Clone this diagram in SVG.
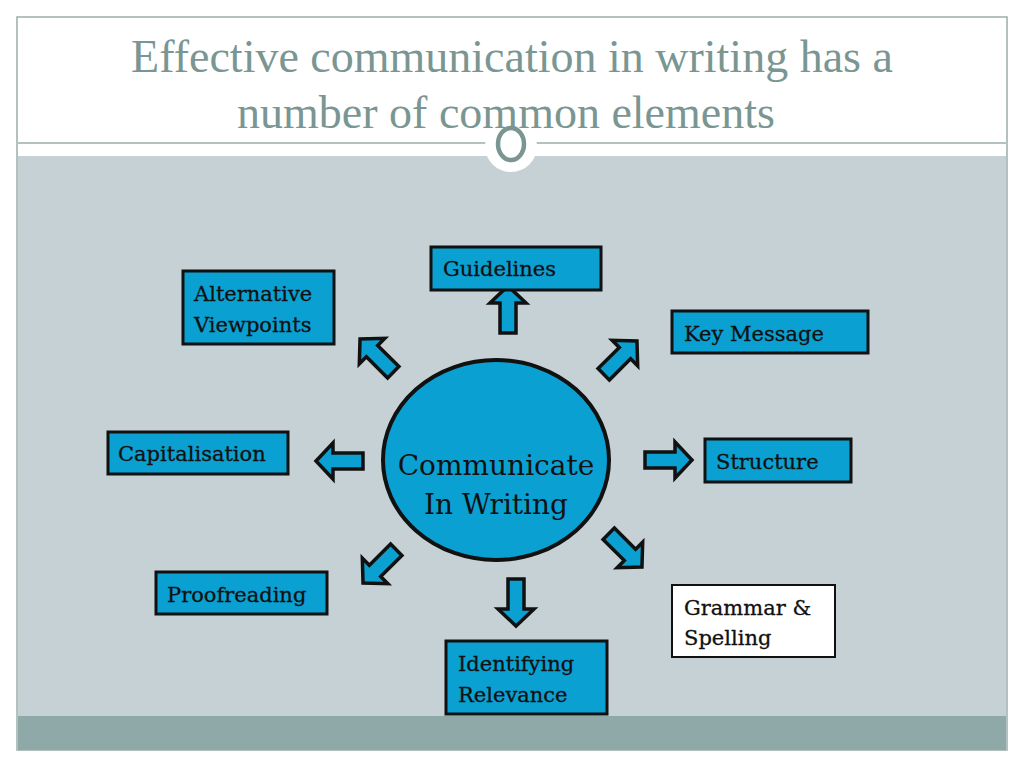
<svg xmlns="http://www.w3.org/2000/svg" width="1024" height="768" viewBox="0 0 1024 768">
<style>
.box{fill:#0aa0d2;stroke:#111;stroke-width:3}
.lbl{font-family:"DejaVu Serif","Liberation Serif",serif;font-size:21px;fill:#111;stroke:#111;stroke-width:0.3}
.ttl{font-family:"Liberation Serif",serif;font-size:46px;fill:#7a9692;text-anchor:middle}
.arr{fill:#0aa0d2;stroke:#111;stroke-width:3.5;stroke-linejoin:miter}
</style>
<defs>
<path id="ar" d="M-8,23 L-8,-7 L-18,-7 L0,-24 L18,-7 L8,-7 L8,23 Z"/>
</defs>
<rect width="1024" height="768" fill="#fff"/>
<rect x="17" y="17" width="990" height="733" fill="#fff" stroke="#9aaeab" stroke-width="1.5"/>
<rect x="18" y="156" width="988" height="560" fill="#c6d1d5"/>
<rect x="18" y="716" width="988" height="34" fill="#8fa9a8"/>
<line x1="18" y1="143" x2="1006" y2="143" stroke="#9aaeab" stroke-width="1.5"/>
<circle cx="511" cy="146" r="26" fill="#fff"/>
<ellipse cx="511" cy="144" rx="13" ry="16" fill="none" stroke="#7a9692" stroke-width="4.5"/>
<text class="ttl" x="512" y="72">Effective communication in writing has a</text>
<text class="ttl" x="506" y="128">number of common elements</text>
<g id="center"><ellipse cx="496" cy="460" rx="113" ry="100" fill="#0aa0d2" stroke="#111" stroke-width="4"/>
<text x="496" y="475" font-family="DejaVu Serif,Liberation Serif,serif" font-size="28" fill="#111" text-anchor="middle">Communicate</text>
<text x="496" y="514" font-family="DejaVu Serif,Liberation Serif,serif" font-size="28" fill="#111" text-anchor="middle">In Writing</text></g>
<g id="connectors">
<use href="#ar" class="arr" transform="translate(508,310)"/>
<use href="#ar" class="arr" transform="translate(620,358) rotate(45)"/>
<use href="#ar" class="arr" transform="translate(668,460) rotate(90)"/>
<use href="#ar" class="arr" transform="translate(625,550) rotate(135)"/>
<use href="#ar" class="arr" transform="translate(516,602) rotate(180)"/>
<use href="#ar" class="arr" transform="translate(380,566) rotate(225)"/>
<use href="#ar" class="arr" transform="translate(340,461) rotate(270)"/>
<use href="#ar" class="arr" transform="translate(377,356) rotate(315)"/>
</g>
<g id="guidelines"><rect class="box" x="431" y="247" width="170" height="43"/><text class="lbl" x="443" y="276">Guidelines</text></g>
<g id="alt"><rect class="box" x="183" y="271" width="151" height="73"/><text class="lbl" x="194" y="301">Alternative</text><text class="lbl" x="194" y="332">Viewpoints</text></g>
<g id="key"><rect class="box" x="672" y="311" width="196" height="42"/><text class="lbl" x="684" y="341">Key Message</text></g>
<g id="cap"><rect class="box" x="108" y="432" width="180" height="42"/><text class="lbl" x="118" y="461">Capitalisation</text></g>
<g id="struct"><rect class="box" x="705" y="439" width="146" height="43"/><text class="lbl" x="716" y="469">Structure</text></g>
<g id="proof"><rect class="box" x="156" y="572" width="171" height="42"/><text class="lbl" x="167" y="602">Proofreading</text></g>
<g id="grammar"><rect x="672" y="585" width="163" height="72" fill="#fff" stroke="#111" stroke-width="2"/><text class="lbl" x="684" y="615">Grammar &amp;</text><text class="lbl" x="684" y="645">Spelling</text></g>
<g id="ident"><rect class="box" x="446" y="641" width="161" height="73"/><text class="lbl" x="458" y="671">Identifying</text><text class="lbl" x="458" y="702">Relevance</text></g>
</svg>
